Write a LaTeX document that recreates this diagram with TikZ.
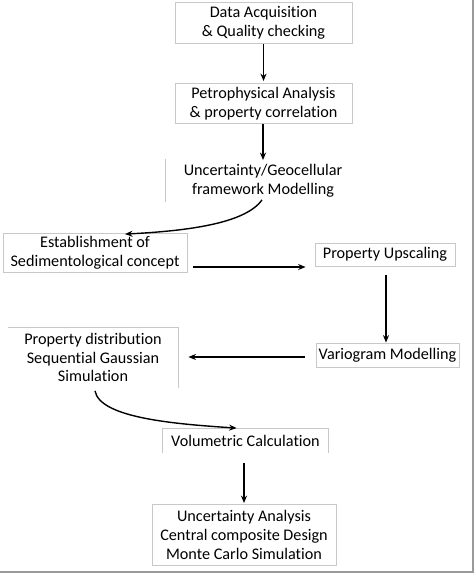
\documentclass[tikz,border=0pt]{standalone}
\usepackage{fontspec}
\setmainfont{Carlito}[Ligatures=NoCommon]
\usetikzlibrary{arrows.meta,calc}
\definecolor{boxgray}{HTML}{C8C8C8}
\definecolor{framegray}{HTML}{9A9A9A}
\tikzset{
  box/.style={draw=boxgray, line width=0.8pt, inner sep=0pt, align=center,
    font=\fontsize{16.2}{18.6}\selectfont, text=black},
  openbox/.style={box, draw=none},
  arr/.style={-{Stealth[length=7.5pt,width=6pt]}, line width=1.4pt, black},
  edge/.style={draw=boxgray, line width=0.8pt}
}
\begin{document}
\begin{tikzpicture}[x=1pt,y=-1pt]
\useasboundingbox (0,0) rectangle (474,573);
\fill[white] (0,0) rectangle (474,573);
\draw[framegray, line width=2pt] (0,572) -- (473,572) -- (473,0);

\node[box, minimum width=177, minimum height=41] (n1) at (263.5,23) {Data Acquisition\\\& Quality checking};
\node[box, minimum width=177, minimum height=40] (n2) at (263.5,103.5) {Petrophysical Analysis\\\& property correlation};
\node[openbox, minimum width=194, minimum height=42] (n3) at (263,180.5) {Uncertainty/Geocellular\\framework Modelling};
\draw[edge] (n3.north west) -- (n3.south west);
\node[box, minimum width=184, minimum height=39] (n4) at (95,252.5) {Establishment of\\Sedimentological concept};
\node[box, minimum width=140, minimum height=23] (n5) at (385,254.5) {Property Upscaling};
\node[box, minimum width=143, minimum height=24] (n6) at (387.5,355) {Variogram Modelling};
\node[openbox, minimum width=170, minimum height=60] (n7) at (93,357.5) {Property distribution\\Sequential Gaussian\\Simulation};
\draw[edge] (n7.north west) -- (n7.north east) -- (n7.south east);
\node[openbox, minimum width=165, minimum height=24] (n8) at (245.5,440.5) {Volumetric Calculation};
\draw[edge] (n8.south west) -- (n8.north west) -- (n8.north east) -- (n8.south east);
\node[box, minimum width=184, minimum height=61] (n9) at (244,535) {Uncertainty Analysis\\Central composite Design\\Monte Carlo Simulation};

\draw[arr] (n1.south) -- ($(n2.north)+(0,-2)$);
\draw[arr] ($(n2.south)+(-0.5,0)$) -- ($(n3.north)+(0,1)$);
\draw[arr] ($(n3.south)+(-1,-2)$) .. controls (245,224) and (185,231) .. ($(n4.north)+(30,1.5)$);
\draw[arr] ($(n4.east)+(6,14.5)$) -- ($(n5.west)+(-9,12.5)$);
\draw[arr] ($(n5.south)+(1,9)$) -- ($(n6.north)+(-1.5,0)$);
\draw[arr] ($(n6.west)+(-11,2)$) -- ($(n7.east)+(10,-0.5)$);
\draw[arr] ($(n7.south)+(2,3)$) .. controls (100,418) and (175,424) .. ($(n8.north west)+(74,0)$);
\draw[arr] ($(n8.south)+(-1.5,10)$) -- ($(n9.north)+(0,-1)$);
\end{tikzpicture}
\end{document}
